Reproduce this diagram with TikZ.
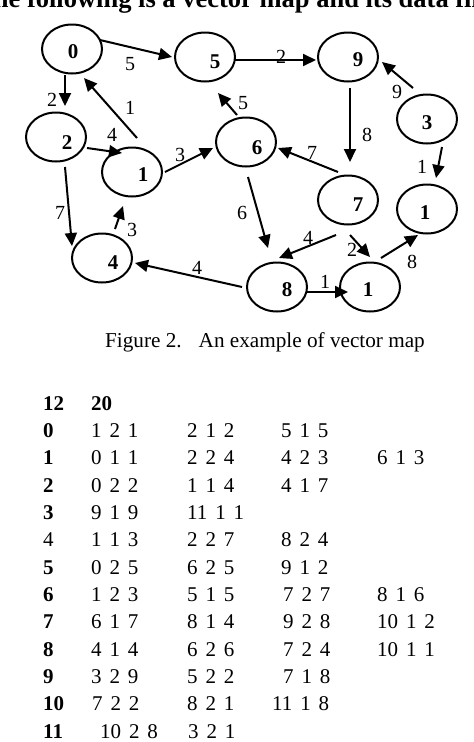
\documentclass[tikz,border=0pt]{standalone}
\usepackage{fontspec}
\setmainfont{Liberation Serif}
\newfontfamily\tabfont{Liberation Serif}[WordSpace=1.5]
\usetikzlibrary{shapes.geometric,arrows.meta,calc}
\newcommand\vmrow[5]{\makebox[48pt][l]{#1}\makebox[96pt][l]{#2}\makebox[94pt][l]{#3}\makebox[96pt][l]{#4}#5}
\tikzset{
  vn/.style={ellipse, draw, line width=2pt, minimum width=60pt, minimum height=49pt, inner sep=0pt},
  vl/.style={font=\fontsize{21}{21}\selectfont\bfseries, inner sep=0pt},
  wl/.style={font=\fontsize{20}{20}\selectfont, inner sep=0pt},
  edge/.style={line width=2pt, -{Triangle[length=13pt,width=12pt]}},
  captext/.style={anchor=base west, inner sep=0pt, font=\fontsize{21.2}{21.2}\selectfont},
  trow/.style={anchor=base west, inner sep=0pt, font=\tabfont\fontsize{21}{21}\selectfont},
  toptext/.style={anchor=base west, inner sep=0pt, font=\fontsize{26.5}{26.5}\selectfont\bfseries}
}
\begin{document}
\begin{tikzpicture}[x=1pt,y=-1pt]
\useasboundingbox (0,0) rectangle (474,742);
\clip (0,0) rectangle (474,742);
\node[toptext] (head) at (-24,7) {The following is a vector map and its data file};
% vertices
\node[vn] (n0) at (72,49) {};
\node[vn] (n5) at (205,57) {};
\node[vn] (n9) at (348,57) {};
\node[vn] (n3) at (427,119) {};
\node[vn] (n2) at (56,137) {};
\node[vn] (n1) at (132,172) {};
\node[vn] (n6) at (246,142) {};
\node[vn] (n7) at (348,200) {};
\node[vn] (n10) at (427,209) {};
\node[vn] (n4) at (102,258) {};
\node[vn] (n8) at (277,287) {};
\node[vn] (n11) at (370,287) {};
% vertex labels
\node[vl] (l0) at ($(n0)+(1,3)$) {0};
\node[vl] (l5) at ($(n5)+(10,5)$) {5};
\node[vl] (l9) at ($(n9)+(10,3)$) {9};
\node[vl] (l3) at ($(n3)+(0,4)$) {3};
\node[vl] (l2) at ($(n2)+(11,6)$) {2};
\node[vl] (l1) at ($(n1)+(11,3)$) {1};
\node[vl] (l6) at ($(n6)+(11,6)$) {6};
\node[vl] (l7) at ($(n7)+(10,5)$) {7};
\node[vl] (l10) at ($(n10)+(-2,4)$) {1};
\node[vl] (l4) at ($(n4)+(11,5)$) {4};
\node[vl] (l8) at ($(n8)+(10,3)$) {8};
\node[vl] (l11) at ($(n11)+(-2,3)$) {1};
% edges
\draw[edge] ($(n0)+(28,-9)$) -- ($(n5)+(-33,0)$);
\draw[edge] ($(n5)+(30,3)$) -- ($(n9)+(-32,3)$);
\draw[edge] ($(n0)+(-7,26)$) -- ($(n2)+(9,-31)$);
\draw[edge] ($(n1)+(5,-34)$) -- ($(n0)+(12,29)$);
\draw[edge] ($(n2)+(31,11)$) -- ($(n1)+(-10,-19)$);
\draw[edge] ($(n1)+(33,0)$) -- ($(n6)+(-33,6)$);
\draw[edge] ($(n6)+(-9,-27)$) -- ($(n5)+(13,36)$);
\draw[edge] ($(n9)+(2,31)$) -- ($(n7)+(2,-38)$);
\draw[edge] ($(n3)+(-14,-31)$) -- ($(n9)+(34,5)$);
\draw[edge] ($(n3)+(15,28)$) -- ($(n10)+(9,-31)$);
\draw[edge] ($(n7)+(-10,-28)$) -- ($(n6)+(32,6)$);
\draw[edge] ($(n2)+(9,30)$) -- ($(n4)+(-30,-12)$);
\draw[edge] ($(n4)+(13,-29)$) -- ($(n1)+(-9,34)$);
\draw[edge] ($(n6)+(2,35)$) -- ($(n8)+(-9,-39)$);
\draw[edge] ($(n7)+(-12,35)$) -- ($(n8)+(2,-29)$);
\draw[edge] ($(n7)+(2,35)$) -- ($(n11)+(0,-30)$);
\draw[edge] ($(n11)+(11,-29)$) -- ($(n10)+(-9,26)$);
\draw[edge] ($(n8)+(-35,0)$) -- ($(n4)+(33,5)$);
\draw[edge] ($(n8)+(30,5)$) -- ($(n11)+(-22,5)$);
% weights
\node[wl] (w1) at (130,64) {5};
\node[wl] (w2) at (281,57) {2};
\node[wl] (w3) at (52,100) {2};
\node[wl] (w4) at (130,108) {1};
\node[wl] (w5) at (112,135) {4};
\node[wl] (w6) at (180,155) {3};
\node[wl] (w7) at (243,103) {5};
\node[wl] (w8) at (367,135) {8};
\node[wl] (w9) at (397,92) {9};
\node[wl] (w10) at (422,167) {1};
\node[wl] (w11) at (312,153) {7};
\node[wl] (w12) at (60,213) {7};
\node[wl] (w13) at (132,230) {3};
\node[wl] (w14) at (242,213) {6};
\node[wl] (w15) at (308,238) {4};
\node[wl] (w16) at (352,250) {2};
\node[wl] (w17) at (412,262) {8};
\node[wl] (w18) at (197,268) {4};
\node[wl] (w19) at (325,282) {1};
% caption
\node[captext] (caption) at (105,347) {Figure 2.\hspace{17pt}An example of vector map};
% data table
\node[trow] (r0) at (43,410) {\vmrow{\textbf{12}}{\textbf{20}}{}{}{}};
\node[trow] (r1) at (43,437.3) {\vmrow{\textbf{0}}{1 2 1}{2 1 2}{5 1 5}{}};
\node[trow] (r2) at (43,464.7) {\vmrow{\textbf{1}}{0 1 1}{2 2 4}{4 2 3}{6 1 3}};
\node[trow] (r3) at (43,492) {\vmrow{\textbf{2}}{0 2 2}{1 1 4}{4 1 7}{}};
\node[trow] (r4) at (43,519.3) {\vmrow{\textbf{3}}{9 1 9}{11 1 1}{}{}};
\node[trow] (r5) at (43,546.7) {\vmrow{4}{1 1 3}{2 2 7}{8 2 4}{}};
\node[trow] (r6) at (43,574) {\vmrow{\textbf{5}}{0 2 5}{6 2 5}{9 1 2}{}};
\node[trow] (r7) at (43,601.3) {\vmrow{\textbf{6}}{1 2 3}{5 1 5}{\hspace{2pt}7 2 7}{8 1 6}};
\node[trow] (r8) at (43,628.7) {\vmrow{\textbf{7}}{6 1 7}{8 1 4}{\hspace{2pt}9 2 8}{10 1 2}};
\node[trow] (r9) at (43,656) {\vmrow{\textbf{8}}{4 1 4}{6 2 6}{\hspace{2pt}7 2 4}{10 1 1}};
\node[trow] (r10) at (43,683.3) {\vmrow{\textbf{9}}{3 2 9}{5 2 2}{\hspace{2pt}7 1 8}{}};
\node[trow] (r11) at (43,710.7) {\vmrow{\textbf{10}}{\hspace{1pt}7 2 2}{8 2 1}{\hspace{-9pt}11 1 8}{}};
\node[trow] (r12) at (43,738) {\vmrow{\textbf{11}}{\hspace{9pt}10 2 8}{\hspace{1pt}3 2 1}{}{}};
\end{tikzpicture}
\end{document}
